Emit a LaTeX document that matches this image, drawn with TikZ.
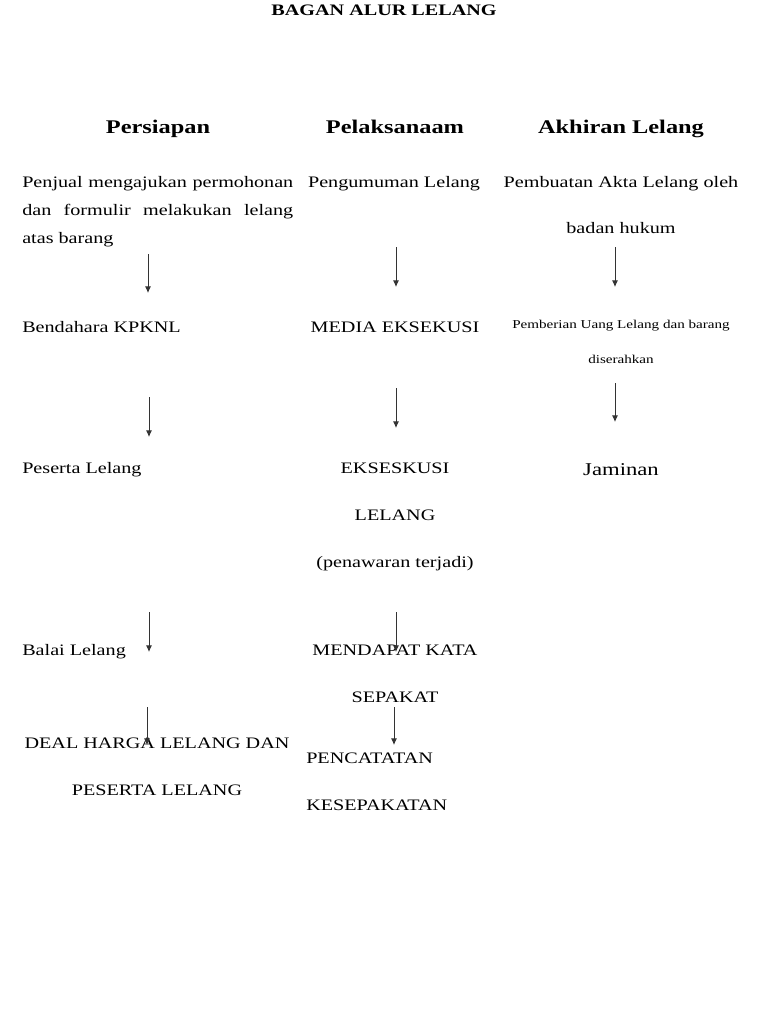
\documentclass[tikz,border=0pt]{standalone}
\usepackage{fontspec}
\setmainfont[FakeStretch=1.26]{Liberation Serif}
\usetikzlibrary{arrows.meta}
\setlength{\parindent}{0pt}

\begin{document}
\begin{tikzpicture}[x=0.75pt,y=-0.75pt,
        teks/.style={inner sep=0pt,font=\fontsize{12}{35.25}\selectfont},
        kepala/.style={inner sep=0pt,anchor=base,font=\fontsize{14.5}{17}\selectfont\bfseries},
        panah/.style={draw=black!80,line width=0.65pt,-{Latex[length=5pt,width=4.6pt]}}]
        \useasboundingbox (0,0) rectangle (768,1024);
        \node [inner sep=0pt,anchor=base,font=\fontsize{12}{14}\selectfont\bfseries] (judul) at (384,16) {BAGAN ALUR LELANG};

        \node [kepala] (persiapan) at (158,133) {Persiapan};
        \node [kepala] (pelaksanaan) at (395,133) {Pelaksanaam};
        \node [kepala] (akhiran) at (621,133) {Akhiran Lelang};

        % kolom persiapan
        \node [teks,anchor=north west,text width=203.25pt,align=justify,font=\fontsize{12}{21}\selectfont] (penjual) at (22,176)
            {Penjual mengajukan permohonan\linebreak dan formulir melakukan lelang\linebreak atas barang};
        \node [teks,anchor=base west] (bendahara) at (22,332) {Bendahara KPKNL};
        \node [teks,anchor=base west] (peserta) at (22,473) {Peserta Lelang};
        \node [teks,anchor=base west] (balai) at (22,655) {Balai Lelang};
        \node [teks,anchor=north,align=center] (deal) at (157,737.4) {DEAL HARGA LELANG DAN\\PESERTA LELANG};

        % kolom pelaksanaan
        \node [teks,anchor=base] (pengumuman) at (394,187) {Pengumuman Lelang};
        \node [teks,anchor=base] (media) at (395,332) {MEDIA EKSEKUSI};
        \node [teks,anchor=north,align=center] (eksekusi) at (395,462.4) {EKSESKUSI\\LELANG\\(penawaran terjadi)};
        \node [teks,anchor=north,align=center] (mendapat) at (395,644.4) {MENDAPAT KATA\\SEPAKAT};
        \node [teks,anchor=north west,align=left] (pencatatan) at (306,752.4) {PENCATATAN\\KESEPAKATAN};

        % kolom akhiran
        \node [teks,anchor=north,align=center,font=\fontsize{12}{34.5}\selectfont] (pembuatan) at (621,176) {Pembuatan Akta Lelang oleh\\badan hukum};
        \node [teks,anchor=north,align=center,font=\fontsize{9}{26.25}\selectfont] (pemberian) at (621,320) {Pemberian Uang Lelang dan barang\\diserahkan};
        \node [teks,anchor=base,font=\fontsize{13.5}{16}\selectfont] (jaminan) at (621,475) {Jaminan};

        % panah
        \foreach \n/\x/\ya/\yb in {1/148/254/293, 2/149/397/437, 3/149/612/652, 4/147/707/745,
                5/396/247/287, 6/396/388/428, 7/396/612/652, 8/394/707/745,
                9/615/247/287, 10/615/383/422} {
            \coordinate (awal\n) at (\x,\ya);
            \coordinate (akhir\n) at (\x,\yb);
            \draw [panah] (awal\n) -- (akhir\n);
        }
\end{tikzpicture}
\end{document}
